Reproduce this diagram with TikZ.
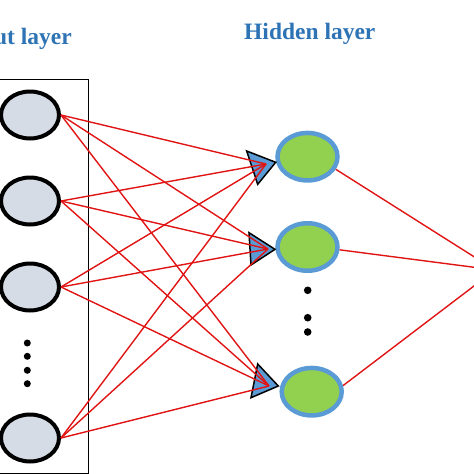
\documentclass[tikz,border=0pt]{standalone}
\usepackage{fontspec}
\setmainfont{Liberation Serif}
\usetikzlibrary{shapes,shapes.geometric}
\definecolor{titleblue}{RGB}{46,116,181}
\definecolor{rimblue}{RGB}{91,155,213}
\definecolor{inputgray}{RGB}{214,220,229}
\definecolor{hiddengreen}{RGB}{146,208,80}
\definecolor{wirered}{RGB}{225,20,20}
\tikzset{input/.style={
        draw,
        ellipse,
        line width=4pt,
        fill=inputgray,
        minimum width=58pt,
        minimum height=47pt,
    },
    hidden/.style={
        draw=rimblue,
        ellipse,
        line width=4.5pt,
        fill=hiddengreen,
        minimum width=60pt,
        minimum height=47.5pt,
    },
    layertitle/.style={
        text=titleblue,
        font=\fontsize{23.5}{28}\selectfont\bfseries,
        inner sep=0pt,
    },
    arrowhead/.style={
        draw=black,
        fill=rimblue,
        line width=1.5pt,
        line join=miter,
    },
    wire/.style={
        draw=wirered,
        line width=1.4pt,
    }
}

\begin{document}
\begin{tikzpicture}[x=1pt,y=-1pt]
  \clip (0,0) rectangle (474,474);
  \node[layertitle, anchor=base east] (intitle) at (72,44) {Input layer};
  \node[layertitle, anchor=base west] (hidtitle) at (244,39.5) {Hidden layer};
  \draw[line width=1pt] (-5,79) rectangle (88,473);
  % input layer
  \node[input] (i1) at (30,115) {};
  \node[input] (i2) at (30,201) {};
  \node[input] (i3) at (30,287) {};
  \node[input] (i4) at (30,438) {};
  \fill (27.3,343) circle (3.5) (27.3,356.3) circle (3.5)
        (27.3,370.3) circle (3.5) (27.3,383.7) circle (3.5);
  % hidden layer
  \node[hidden] (h1) at (307.5,156.7) {};
  \node[hidden] (h2) at (307.5,247) {};
  \node[hidden] (h3) at (311.7,391.7) {};
  \fill (307.7,290.3) circle (3.8) (307.7,317.7) circle (3.8)
        (307.7,332) circle (3.8);
  % arrow heads in front of the hidden nodes
  \filldraw[arrowhead] (246.7,151) -- (275.7,162.3) -- (257.7,184.3) -- cycle;
  \filldraw[arrowhead] (249,232.7) -- (275,249.3) -- (251,265) -- cycle;
  \filldraw[arrowhead] (257.7,364) -- (278.3,386) -- (251,397.7) -- cycle;
  \coordinate (h1in) at (266,164);
  \coordinate (h2in) at (268,249);
  \coordinate (h3in) at (269,386);
  \coordinate (out) at (495,270);
  \path[wire]
  (i1.east)
  edge (h1in)
  edge (h2in)
  edge (h3in)
  (i2.east)
  edge (h1in)
  edge (h2in)
  edge (h3in)
  (i3.east)
  edge (h1in)
  edge (h2in)
  edge (h3in)
  (i4.east)
  edge (h1in)
  edge (h2in)
  edge (h3in)
  (h1.-24)
  edge (out)
  (h2.-5)
  edge (out)
  (h3.11)
  edge (out)
  ;
\end{tikzpicture}
\end{document}
